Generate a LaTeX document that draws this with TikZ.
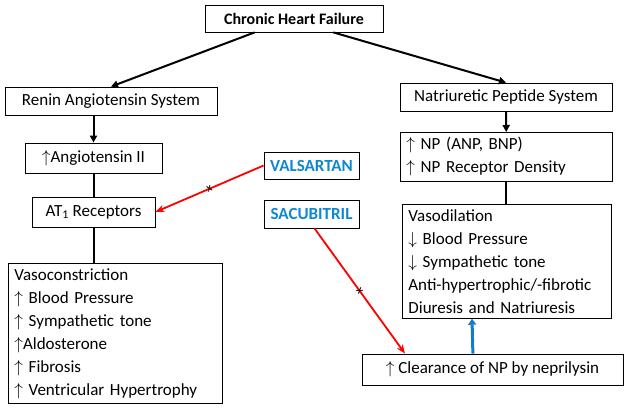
\documentclass[tikz,border=0pt]{standalone}
\usepackage{fontspec}
\setmainfont{Carlito}
\usetikzlibrary{arrows.meta}
\begin{document}
\begin{tikzpicture}[x=1pt,y=-1pt,
 box/.style={draw,line width=0.8pt,inner sep=0pt,font=\fontsize{17}{23}\selectfont},
 ml/.style={box,align=left,anchor=north west,inner xsep=6pt,inner ysep=5pt},
 drug/.style={box,text=cyan!70!blue,font=\fontsize{17}{23}\selectfont\bfseries},
 blk/.style={line width=2pt,-{Triangle[length=7pt,width=7pt]}},
 ln/.style={line width=2pt},
 xm/.style={sloped,text=black,font=\fontsize{12}{12}\selectfont},
 red/.style={draw=red,line width=1.8pt,-{Stealth[length=9pt,width=7pt]}}]
\useasboundingbox (0,0) rectangle (627,413);
\node[box,minimum width=178,minimum height=27,font=\fontsize{16}{22}\selectfont\bfseries] (chf) at (294,18.5) {Chronic Heart Failure};
\node[box,minimum width=212,minimum height=28] (ras) at (111,101) {Renin Angiotensin System};
\node[box,minimum width=212,minimum height=28] (nps) at (506,97) {Natriuretic Peptide System};
\node[box,minimum width=137,minimum height=30] (ang) at (93.5,158) {$\uparrow$Angiotensin II};
\node[box,minimum width=123,minimum height=30] (at1) at (93.5,212) {AT\textsubscript{1} Receptors};
\node[drug,minimum width=95,minimum height=27] (val) at (311.5,165.5) {VALSARTAN};
\node[drug,minimum width=95,minimum height=28] (sac) at (311.5,214) {SACUBITRIL};
\node[ml,text width=200] (np) at (400,132) {$\uparrow$ NP (ANP, BNP)\\$\uparrow$ NP Receptor Density};
\node[ml,text width=197] (vd) at (402,204) {Vasodilation\\$\downarrow$ Blood Pressure\\$\downarrow$ Sympathetic tone\\Anti-hypertrophic/-fibrotic\\Diuresis and Natriuresis};
\node[ml,text width=202] (vc) at (8,263) {Vasoconstriction\\$\uparrow$ Blood Pressure\\$\uparrow$ Sympathetic tone\\$\uparrow$Aldosterone\\$\uparrow$ Fibrosis\\$\uparrow$ Ventricular Hypertrophy};
\node[box,minimum width=261,minimum height=31] (cl) at (492.5,369.5) {$\uparrow$ Clearance of NP by neprilysin};
\draw[blk] (chf.south west)++(50,0) -- (ras.north);
\draw[blk] (chf.south east)++(-50,0) -- (nps.north);
\draw[blk] (ras.south -| ang.north) -- (ang.north);
\draw[ln] (ang) -- (at1);
\draw[ln] (at1.south) -- (at1.south |- vc.north);
\draw[blk] (nps) -- (np);
\draw[ln] (np.south) -- (np.south |- vd.north);
\draw[red] (val.west) -- node[xm]{x} (at1.east);
\coordinate (c1) at (405,354);
\draw[red] (sac.south) ++(3,0) -- node[xm]{x} (cl.north west -| c1);
\draw[draw=cyan!60!blue,line width=3pt,-{Triangle[length=6pt,width=8pt]}] (cl.north -| vd.south) ++(-34,0) -- (vd.south -| 472,0);
\end{tikzpicture}
\end{document}
